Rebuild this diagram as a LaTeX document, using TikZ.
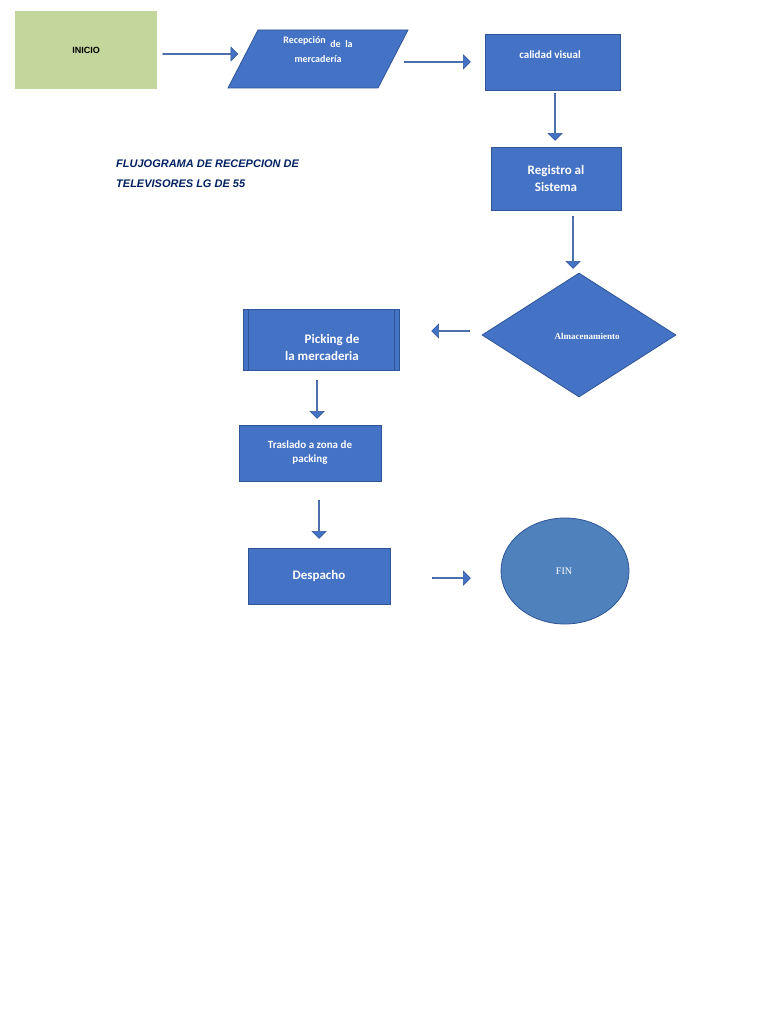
\documentclass[tikz,border=0pt]{standalone}
\usepackage{fontspec}
\setmainfont{Carlito}
\newfontfamily\serifx{Liberation Serif}
\newfontfamily\arialx{Liberation Sans}
\usetikzlibrary{shapes.geometric,shapes.arrows}
\definecolor{bfill}{HTML}{4472C4}
\definecolor{bline}{HTML}{2F5597}
\definecolor{gfill}{HTML}{C3D69B}
\definecolor{cfill}{HTML}{4F81BD}
\definecolor{tblue}{HTML}{002060}
\tikzset{
 box/.style={draw=bline,fill=bfill,line width=0.8pt,text=white,font=\bfseries,align=center,inner sep=0pt},
 barrow/.style={single arrow,draw=bline,fill=bfill,line width=0.6pt,single arrow head extend=3pt,minimum width=14pt,inner sep=0pt},
}
\begin{document}
\begin{tikzpicture}[x=1pt,y=-1pt]
\useasboundingbox[fill=white] (0,0) rectangle (768,1024);
\node[fill=gfill,minimum width=142pt,minimum height=78pt,font=\arialx\bfseries\fontsize{9}{11}\selectfont] (inicio) at (86,50) {INICIO};
\node[barrow,minimum height=75pt] (a1) at (200,54) {};
\draw[draw=bline,fill=bfill,line width=0.8pt] (258,30) -- (408,30) -- (378,88) -- (228,88) -- cycle;
\node[text=white,font=\bfseries\fontsize{10}{12}\selectfont,align=center] (recep) at (318,50) {\raisebox{4pt}{Recepción}\ \ de\ \ la\\[3pt]mercadería};
\node[barrow,minimum height=66pt] (a2) at (437,62) {};
\node[box,minimum width=135pt,minimum height=56pt] (cal) at (552.5,62) {};
\node[text=white,font=\bfseries\fontsize{11}{13}\selectfont] at (550,55) {calidad visual};
\node[barrow,minimum height=47pt,shape border rotate=270] (a3) at (555,116.5) {};
\node[box,minimum width=130pt,minimum height=63pt,font=\bfseries\fontsize{13}{17}\selectfont] (reg) at (556,178.5) {Registro al\\Sistema};
\node[barrow,minimum height=52pt,shape border rotate=270] (a4) at (573,242) {};
\node[diamond,draw=bline,fill=bfill,line width=0.8pt,minimum width=194pt,minimum height=124pt,aspect=1.56,inner sep=0pt] (alm) at (579,335) {};
\node[text=white,font=\serifx\bfseries\fontsize{9}{11}\selectfont] at (587,336) {Almacenamiento};
\node[barrow,minimum height=38pt,shape border rotate=180] (a5) at (451,331) {};
\node[box,minimum width=156pt,minimum height=61pt] (pick) at (321,339.5) {};
\draw[bline,line width=0.8pt] (248,309)--(248,370) (394,309)--(394,370);
\node[text=white,font=\bfseries\fontsize{13}{17}\selectfont,align=center] at (322,347) {\hspace*{20pt}Picking de\\la mercaderia};
\node[barrow,minimum height=38pt,shape border rotate=270] (a6) at (317,399) {};
\node[box,minimum width=142pt,minimum height=56pt,font=\bfseries\fontsize{11}{14}\selectfont] (tras) at (310,453) {Traslado a zona de\\packing};
\node[barrow,minimum height=38pt,shape border rotate=270] (a7) at (319,519) {};
\node[box,minimum width=142pt,minimum height=56pt,font=\bfseries\fontsize{13}{16}\selectfont] (desp) at (319,576) {\raisebox{3pt}{Despacho}};
\node[barrow,minimum height=38pt] (a8) at (451,578) {};
\node[ellipse,draw=bline,fill=cfill,line width=0.8pt,minimum width=128pt,minimum height=106pt,text=white,font=\serifx\fontsize{10}{12}\selectfont] (fin) at (565,571) {};
\node[text=white,font=\serifx\fontsize{10}{12}\selectfont] at (564,571) {FIN};
\node[anchor=north west,text=tblue,font=\arialx\bfseries\itshape\fontsize{11}{20}\selectfont,align=left,inner sep=0pt] (title) at (116,160) {FLUJOGRAMA DE RECEPCION DE\\TELEVISORES LG DE 55};
\end{tikzpicture}
\end{document}
